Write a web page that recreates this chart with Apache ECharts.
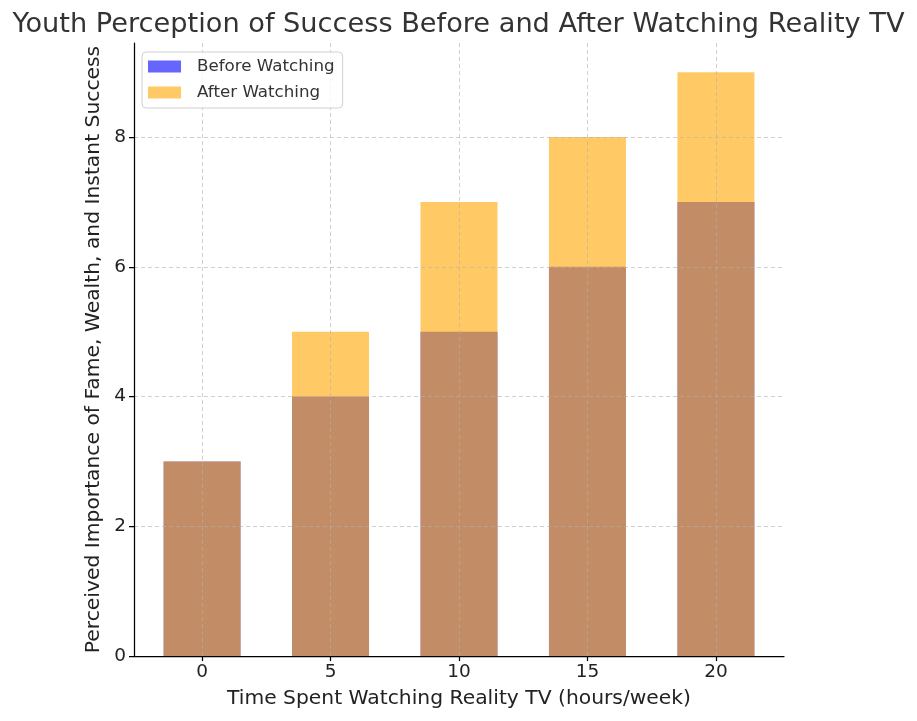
<!DOCTYPE html>
<html>
<head>
<meta charset="utf-8">
<script src="https://cdn.jsdelivr.net/npm/echarts@6/dist/echarts.min.js"></script>
<style>html,body{margin:0;padding:0;background:#fff}#c{width:917px;height:721px}</style>
</head>
<body>
<div id="c"></div>
<script>
const hours = [0, 5, 10, 15, 20];
const beforeWatching = [3, 4, 5, 6, 7];
const afterWatching = [3, 5, 7, 8, 9];
const xTicks = [0, 5, 10, 15, 20];
const yTicks = [0, 2, 4, 6, 8];

const FONT = 'DejaVu Sans';
const chart = echarts.init(document.getElementById('c'));
const gridLine = {show: true, lineStyle: {color: 'rgba(176,176,176,0.75)', type: [4, 3], width: 0.8}};
chart.setOption({
  animation: false,
  textStyle: {fontFamily: FONT},
  title: {
    text: 'Youth Perception of Success Before and After Watching Reality TV',
    left: 'center', top: 6,
    textStyle: {fontFamily: FONT, fontSize: 27.2, fontWeight: 'normal', color: '#333'}
  },
  legend: {
    orient: 'vertical', left: 142, top: 52,
    padding: [6, 8, 7, 6],
    itemWidth: 33, itemHeight: 12, itemGap: 9,
    icon: 'rect',
    borderColor: '#d0d0d0', borderWidth: 1, borderRadius: 4,
    backgroundColor: 'rgba(255,255,255,0.8)',
    textStyle: {fontFamily: FONT, fontSize: 16.7, color: '#333', padding: [0, 0, 0, 11]},
    data: ['Before Watching', 'After Watching']
  },
  grid: {left: 134, right: 133, top: 43, bottom: 65, containLabel: false},
  xAxis: {
    type: 'value', min: -2.65, max: 22.65,
    name: 'Time Spent Watching Reality TV (hours/week)',
    nameLocation: 'middle', nameGap: 33,
    nameTextStyle: {fontFamily: FONT, fontSize: 20.3, color: '#222'},
    axisLine: {show: true, onZero: false, lineStyle: {color: '#000', width: 1.25}},
    axisTick: {show: true, customValues: xTicks, length: 5, lineStyle: {color: '#000', width: 1.25}},
    axisLabel: {customValues: xTicks, fontSize: 18.5, color: '#222', margin: 7, fontFamily: FONT},
    splitLine: gridLine
  },
  yAxis: {
    type: 'value', min: 0, max: 9.45,
    name: 'Perceived Importance of Fame, Wealth, and Instant Success',
    nameLocation: 'middle', nameGap: 24,
    nameTextStyle: {fontFamily: FONT, fontSize: 20.3, color: '#222'},
    axisLine: {show: true, onZero: false, lineStyle: {color: '#000', width: 1.25}},
    axisTick: {show: true, customValues: yTicks, length: 5, lineStyle: {color: '#000', width: 1.25}},
    axisLabel: {customValues: yTicks, fontSize: 18.5, color: '#222', margin: 8, fontFamily: FONT},
    splitLine: gridLine
  },
  series: [
    {
      name: 'Before Watching', type: 'bar', z: -1, barWidth: 77, barGap: '-100%',
      itemStyle: {color: 'rgba(0,0,255,0.6)'},
      data: hours.map((h, i) => [h, beforeWatching[i]])
    },
    {
      name: 'After Watching', type: 'bar', z: -1, barWidth: 77, barGap: '-100%',
      itemStyle: {color: 'rgba(255,165,0,0.6)'},
      data: hours.map((h, i) => [h, afterWatching[i]])
    }
  ]
});
</script>
</body>
</html>
